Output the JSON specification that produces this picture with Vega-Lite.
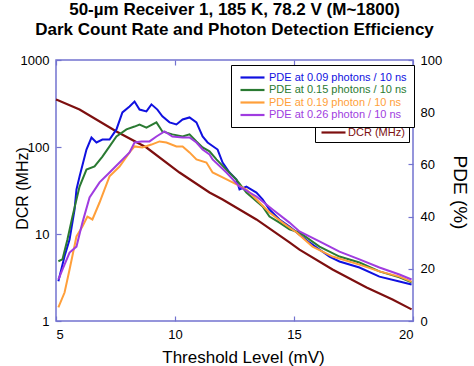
{
  "$schema": "https://vega.github.io/schema/vega-lite/v6.json",
  "width": 357,
  "height": 261,
  "autosize": "none",
  "padding": {"left": 56, "top": 60, "right": 61, "bottom": 45},
  "background": "white",
  "title": {
    "text": ["50-µm Receiver 1, 185 K, 78.2 V (M~1800)", "Dark Count Rate and Photon Detection Efficiency"],
    "fontSize": 17,
    "fontWeight": "bold",
    "font": "Liberation Sans",
    "lineHeight": 20,
    "offset": 15,
    "anchor": "middle",
    "color": "black"
  },
  "config": {
    "view": {"stroke": "#7373cf", "strokeWidth": 1.5},
    "axis": {
      "domain": false,
      "grid": false,
      "tickColor": "#7373cf",
      "tickSize": -5,
      "tickWidth": 1.2,
      "labelFont": "Liberation Sans",
      "labelFontSize": 13,
      "labelColor": "black",
      "titleFont": "Liberation Sans",
      "titleFontSize": 16,
      "titleFontWeight": "normal",
      "titleColor": "black"
    },
    "legend": {
      "labelFont": "Liberation Sans",
      "labelFontSize": 11,
      "symbolType": "M-1,0H7",
      "symbolSize": 36,
      "symbolStrokeWidth": 2.2,
      "labelOffset": 20,
      "rowPadding": 0.5,
      "strokeColor": "black",
      "fillColor": "white"
    }
  },
  "datasets": {
    "pde": [
      {"series": "PDE at 0.09 photons / 10 ns", "mV": 5.1, "pde": 15.2},
      {"series": "PDE at 0.09 photons / 10 ns", "mV": 5.36, "pde": 24.8},
      {"series": "PDE at 0.09 photons / 10 ns", "mV": 5.57, "pde": 31.2},
      {"series": "PDE at 0.09 photons / 10 ns", "mV": 5.78, "pde": 42.7},
      {"series": "PDE at 0.09 photons / 10 ns", "mV": 5.86, "pde": 50.4},
      {"series": "PDE at 0.09 photons / 10 ns", "mV": 5.99, "pde": 55.4},
      {"series": "PDE at 0.09 photons / 10 ns", "mV": 6.28, "pde": 65.7},
      {"series": "PDE at 0.09 photons / 10 ns", "mV": 6.49, "pde": 70.3},
      {"series": "PDE at 0.09 photons / 10 ns", "mV": 6.7, "pde": 68.4},
      {"series": "PDE at 0.09 photons / 10 ns", "mV": 6.95, "pde": 69.5},
      {"series": "PDE at 0.09 photons / 10 ns", "mV": 7.25, "pde": 69.5},
      {"series": "PDE at 0.09 photons / 10 ns", "mV": 7.54, "pde": 73.4},
      {"series": "PDE at 0.09 photons / 10 ns", "mV": 7.79, "pde": 79.9},
      {"series": "PDE at 0.09 photons / 10 ns", "mV": 8.09, "pde": 82.2},
      {"series": "PDE at 0.09 photons / 10 ns", "mV": 8.3, "pde": 84.1},
      {"series": "PDE at 0.09 photons / 10 ns", "mV": 8.51, "pde": 81.0},
      {"series": "PDE at 0.09 photons / 10 ns", "mV": 8.8, "pde": 80.3},
      {"series": "PDE at 0.09 photons / 10 ns", "mV": 9.01, "pde": 83.0},
      {"series": "PDE at 0.09 photons / 10 ns", "mV": 9.26, "pde": 81.0},
      {"series": "PDE at 0.09 photons / 10 ns", "mV": 9.47, "pde": 78.4},
      {"series": "PDE at 0.09 photons / 10 ns", "mV": 9.77, "pde": 76.1},
      {"series": "PDE at 0.09 photons / 10 ns", "mV": 10.06, "pde": 75.3},
      {"series": "PDE at 0.09 photons / 10 ns", "mV": 10.32, "pde": 77.2},
      {"series": "PDE at 0.09 photons / 10 ns", "mV": 10.61, "pde": 78.0},
      {"series": "PDE at 0.09 photons / 10 ns", "mV": 10.9, "pde": 76.1},
      {"series": "PDE at 0.09 photons / 10 ns", "mV": 11.16, "pde": 70.7},
      {"series": "PDE at 0.09 photons / 10 ns", "mV": 11.37, "pde": 68.4},
      {"series": "PDE at 0.09 photons / 10 ns", "mV": 11.79, "pde": 65.7},
      {"series": "PDE at 0.09 photons / 10 ns", "mV": 12.0, "pde": 60.7},
      {"series": "PDE at 0.09 photons / 10 ns", "mV": 12.29, "pde": 56.9},
      {"series": "PDE at 0.09 photons / 10 ns", "mV": 12.58, "pde": 54.2},
      {"series": "PDE at 0.09 photons / 10 ns", "mV": 12.71, "pde": 50.4},
      {"series": "PDE at 0.09 photons / 10 ns", "mV": 13.0, "pde": 51.5},
      {"series": "PDE at 0.09 photons / 10 ns", "mV": 13.42, "pde": 49.2},
      {"series": "PDE at 0.09 photons / 10 ns", "mV": 13.68, "pde": 46.6},
      {"series": "PDE at 0.09 photons / 10 ns", "mV": 13.97, "pde": 42.7},
      {"series": "PDE at 0.09 photons / 10 ns", "mV": 14.39, "pde": 38.9},
      {"series": "PDE at 0.09 photons / 10 ns", "mV": 14.81, "pde": 36.2},
      {"series": "PDE at 0.09 photons / 10 ns", "mV": 15.23, "pde": 33.1},
      {"series": "PDE at 0.09 photons / 10 ns", "mV": 15.65, "pde": 30.1},
      {"series": "PDE at 0.09 photons / 10 ns", "mV": 16.07, "pde": 27.4},
      {"series": "PDE at 0.09 photons / 10 ns", "mV": 16.49, "pde": 24.7},
      {"series": "PDE at 0.09 photons / 10 ns", "mV": 16.91, "pde": 22.8},
      {"series": "PDE at 0.09 photons / 10 ns", "mV": 17.75, "pde": 20.5},
      {"series": "PDE at 0.09 photons / 10 ns", "mV": 18.59, "pde": 17.0},
      {"series": "PDE at 0.09 photons / 10 ns", "mV": 19.43, "pde": 15.1},
      {"series": "PDE at 0.09 photons / 10 ns", "mV": 19.94, "pde": 14.0},

      {"series": "PDE at 0.15 photons / 10 ns", "mV": 5.1, "pde": 22.9},
      {"series": "PDE at 0.15 photons / 10 ns", "mV": 5.27, "pde": 23.6},
      {"series": "PDE at 0.15 photons / 10 ns", "mV": 5.48, "pde": 31.2},
      {"series": "PDE at 0.15 photons / 10 ns", "mV": 5.69, "pde": 40.0},
      {"series": "PDE at 0.15 photons / 10 ns", "mV": 5.99, "pde": 51.5},
      {"series": "PDE at 0.15 photons / 10 ns", "mV": 6.28, "pde": 58.0},
      {"series": "PDE at 0.15 photons / 10 ns", "mV": 6.62, "pde": 59.2},
      {"series": "PDE at 0.15 photons / 10 ns", "mV": 6.95, "pde": 63.0},
      {"series": "PDE at 0.15 photons / 10 ns", "mV": 7.25, "pde": 66.9},
      {"series": "PDE at 0.15 photons / 10 ns", "mV": 7.54, "pde": 70.7},
      {"series": "PDE at 0.15 photons / 10 ns", "mV": 7.96, "pde": 73.4},
      {"series": "PDE at 0.15 photons / 10 ns", "mV": 8.3, "pde": 74.5},
      {"series": "PDE at 0.15 photons / 10 ns", "mV": 8.51, "pde": 75.3},
      {"series": "PDE at 0.15 photons / 10 ns", "mV": 8.8, "pde": 74.1},
      {"series": "PDE at 0.15 photons / 10 ns", "mV": 9.22, "pde": 76.1},
      {"series": "PDE at 0.15 photons / 10 ns", "mV": 9.47, "pde": 72.6},
      {"series": "PDE at 0.15 photons / 10 ns", "mV": 9.89, "pde": 71.5},
      {"series": "PDE at 0.15 photons / 10 ns", "mV": 10.32, "pde": 70.7},
      {"series": "PDE at 0.15 photons / 10 ns", "mV": 10.61, "pde": 71.5},
      {"series": "PDE at 0.15 photons / 10 ns", "mV": 10.9, "pde": 68.8},
      {"series": "PDE at 0.15 photons / 10 ns", "mV": 11.16, "pde": 66.5},
      {"series": "PDE at 0.15 photons / 10 ns", "mV": 11.45, "pde": 65.0},
      {"series": "PDE at 0.15 photons / 10 ns", "mV": 11.74, "pde": 61.9},
      {"series": "PDE at 0.15 photons / 10 ns", "mV": 12.16, "pde": 58.0},
      {"series": "PDE at 0.15 photons / 10 ns", "mV": 12.58, "pde": 54.2},
      {"series": "PDE at 0.15 photons / 10 ns", "mV": 13.0, "pde": 49.2},
      {"series": "PDE at 0.15 photons / 10 ns", "mV": 13.68, "pde": 43.9},
      {"series": "PDE at 0.15 photons / 10 ns", "mV": 13.97, "pde": 40.0},
      {"series": "PDE at 0.15 photons / 10 ns", "mV": 14.39, "pde": 37.7},
      {"series": "PDE at 0.15 photons / 10 ns", "mV": 14.81, "pde": 35.1},
      {"series": "PDE at 0.15 photons / 10 ns", "mV": 15.23, "pde": 33.9},
      {"series": "PDE at 0.15 photons / 10 ns", "mV": 16.07, "pde": 28.5},
      {"series": "PDE at 0.15 photons / 10 ns", "mV": 16.91, "pde": 24.7},
      {"series": "PDE at 0.15 photons / 10 ns", "mV": 17.75, "pde": 22.4},
      {"series": "PDE at 0.15 photons / 10 ns", "mV": 18.59, "pde": 19.0},
      {"series": "PDE at 0.15 photons / 10 ns", "mV": 19.43, "pde": 16.7},
      {"series": "PDE at 0.15 photons / 10 ns", "mV": 19.94, "pde": 14.8},

      {"series": "PDE at 0.19 photon / 10 ns", "mV": 5.1, "pde": 5.2},
      {"series": "PDE at 0.19 photon / 10 ns", "mV": 5.36, "pde": 10.9},
      {"series": "PDE at 0.19 photon / 10 ns", "mV": 5.57, "pde": 19.7},
      {"series": "PDE at 0.19 photon / 10 ns", "mV": 5.86, "pde": 32.4},
      {"series": "PDE at 0.19 photon / 10 ns", "mV": 6.11, "pde": 36.2},
      {"series": "PDE at 0.19 photon / 10 ns", "mV": 6.32, "pde": 40.0},
      {"series": "PDE at 0.19 photon / 10 ns", "mV": 6.53, "pde": 38.9},
      {"series": "PDE at 0.19 photon / 10 ns", "mV": 6.83, "pde": 45.4},
      {"series": "PDE at 0.19 photon / 10 ns", "mV": 7.04, "pde": 50.4},
      {"series": "PDE at 0.19 photon / 10 ns", "mV": 7.25, "pde": 55.4},
      {"series": "PDE at 0.19 photon / 10 ns", "mV": 7.67, "pde": 59.2},
      {"series": "PDE at 0.19 photon / 10 ns", "mV": 8.09, "pde": 64.6},
      {"series": "PDE at 0.19 photon / 10 ns", "mV": 8.3, "pde": 66.9},
      {"series": "PDE at 0.19 photon / 10 ns", "mV": 8.63, "pde": 66.5},
      {"series": "PDE at 0.19 photon / 10 ns", "mV": 9.01, "pde": 67.6},
      {"series": "PDE at 0.19 photon / 10 ns", "mV": 9.35, "pde": 68.8},
      {"series": "PDE at 0.19 photon / 10 ns", "mV": 9.64, "pde": 68.4},
      {"series": "PDE at 0.19 photon / 10 ns", "mV": 10.06, "pde": 66.9},
      {"series": "PDE at 0.19 photon / 10 ns", "mV": 10.32, "pde": 66.9},
      {"series": "PDE at 0.19 photon / 10 ns", "mV": 10.61, "pde": 64.6},
      {"series": "PDE at 0.19 photon / 10 ns", "mV": 10.9, "pde": 61.9},
      {"series": "PDE at 0.19 photon / 10 ns", "mV": 11.32, "pde": 60.7},
      {"series": "PDE at 0.19 photon / 10 ns", "mV": 11.58, "pde": 56.9},
      {"series": "PDE at 0.19 photon / 10 ns", "mV": 12.0, "pde": 55.0},
      {"series": "PDE at 0.19 photon / 10 ns", "mV": 12.42, "pde": 53.1},
      {"series": "PDE at 0.19 photon / 10 ns", "mV": 13.0, "pde": 50.4},
      {"series": "PDE at 0.19 photon / 10 ns", "mV": 13.55, "pde": 45.4},
      {"series": "PDE at 0.19 photon / 10 ns", "mV": 13.97, "pde": 41.6},
      {"series": "PDE at 0.19 photon / 10 ns", "mV": 14.52, "pde": 37.7},
      {"series": "PDE at 0.19 photon / 10 ns", "mV": 15.11, "pde": 33.9},
      {"series": "PDE at 0.19 photon / 10 ns", "mV": 15.78, "pde": 28.5},
      {"series": "PDE at 0.19 photon / 10 ns", "mV": 16.62, "pde": 24.7},
      {"series": "PDE at 0.19 photon / 10 ns", "mV": 17.75, "pde": 21.6},
      {"series": "PDE at 0.19 photon / 10 ns", "mV": 18.59, "pde": 19.0},
      {"series": "PDE at 0.19 photon / 10 ns", "mV": 19.43, "pde": 17.0},
      {"series": "PDE at 0.19 photon / 10 ns", "mV": 19.94, "pde": 15.1},

      {"series": "PDE at 0.26 photon / 10 ns", "mV": 5.1, "pde": 15.9},
      {"series": "PDE at 0.26 photon / 10 ns", "mV": 5.27, "pde": 19.7},
      {"series": "PDE at 0.26 photon / 10 ns", "mV": 5.57, "pde": 26.2},
      {"series": "PDE at 0.26 photon / 10 ns", "mV": 5.86, "pde": 28.5},
      {"series": "PDE at 0.26 photon / 10 ns", "mV": 6.11, "pde": 37.7},
      {"series": "PDE at 0.26 photon / 10 ns", "mV": 6.41, "pde": 47.3},
      {"series": "PDE at 0.26 photon / 10 ns", "mV": 6.83, "pde": 53.1},
      {"series": "PDE at 0.26 photon / 10 ns", "mV": 7.25, "pde": 56.9},
      {"series": "PDE at 0.26 photon / 10 ns", "mV": 7.67, "pde": 60.7},
      {"series": "PDE at 0.26 photon / 10 ns", "mV": 8.09, "pde": 64.6},
      {"series": "PDE at 0.26 photon / 10 ns", "mV": 8.3, "pde": 68.4},
      {"series": "PDE at 0.26 photon / 10 ns", "mV": 8.59, "pde": 68.8},
      {"series": "PDE at 0.26 photon / 10 ns", "mV": 8.93, "pde": 68.8},
      {"series": "PDE at 0.26 photon / 10 ns", "mV": 9.22, "pde": 70.7},
      {"series": "PDE at 0.26 photon / 10 ns", "mV": 9.56, "pde": 72.6},
      {"series": "PDE at 0.26 photon / 10 ns", "mV": 9.89, "pde": 70.7},
      {"series": "PDE at 0.26 photon / 10 ns", "mV": 10.32, "pde": 70.3},
      {"series": "PDE at 0.26 photon / 10 ns", "mV": 10.61, "pde": 70.3},
      {"series": "PDE at 0.26 photon / 10 ns", "mV": 10.9, "pde": 68.4},
      {"series": "PDE at 0.26 photon / 10 ns", "mV": 11.16, "pde": 65.7},
      {"series": "PDE at 0.26 photon / 10 ns", "mV": 11.45, "pde": 63.8},
      {"series": "PDE at 0.26 photon / 10 ns", "mV": 11.58, "pde": 61.9},
      {"series": "PDE at 0.26 photon / 10 ns", "mV": 12.16, "pde": 56.9},
      {"series": "PDE at 0.26 photon / 10 ns", "mV": 12.71, "pde": 51.5},
      {"series": "PDE at 0.26 photon / 10 ns", "mV": 13.42, "pde": 47.7},
      {"series": "PDE at 0.26 photon / 10 ns", "mV": 14.1, "pde": 42.7},
      {"series": "PDE at 0.26 photon / 10 ns", "mV": 14.81, "pde": 37.7},
      {"series": "PDE at 0.26 photon / 10 ns", "mV": 15.23, "pde": 34.3},
      {"series": "PDE at 0.26 photon / 10 ns", "mV": 16.07, "pde": 30.5},
      {"series": "PDE at 0.26 photon / 10 ns", "mV": 16.91, "pde": 26.6},
      {"series": "PDE at 0.26 photon / 10 ns", "mV": 17.75, "pde": 23.6},
      {"series": "PDE at 0.26 photon / 10 ns", "mV": 18.59, "pde": 20.5},
      {"series": "PDE at 0.26 photon / 10 ns", "mV": 19.43, "pde": 17.8},
      {"series": "PDE at 0.26 photon / 10 ns", "mV": 19.94, "pde": 15.9}
    ],
    "dcr": [
      {"mV": 5.0, "dcr": 350},
      {"mV": 5.06, "dcr": 347},
      {"mV": 5.99, "dcr": 270},
      {"mV": 7.54, "dcr": 151},
      {"mV": 8.8, "dcr": 98.6},
      {"mV": 10.19, "dcr": 50.9},
      {"mV": 11.45, "dcr": 30.0},
      {"mV": 12.0, "dcr": 24.9},
      {"mV": 13.42, "dcr": 14.7},
      {"mV": 14.81, "dcr": 8.0},
      {"mV": 15.23, "dcr": 6.6},
      {"mV": 16.62, "dcr": 3.91},
      {"mV": 18.05, "dcr": 2.43},
      {"mV": 19.14, "dcr": 1.77},
      {"mV": 19.94, "dcr": 1.36}
    ]
  },
  "layer": [
    {
      "data": {"name": "dcr"},
      "mark": {"type": "line", "strokeWidth": 2.2},
      "encoding": {
        "x": {
          "field": "mV", "type": "quantitative",
          "scale": {"domain": [5, 20], "nice": false},
          "axis": {"orient": "top", "values": [5, 10, 15, 20], "labels": false, "title": null}
        },
        "y": {
          "field": "dcr", "type": "quantitative",
          "scale": {"type": "log", "domain": [1, 1000], "nice": false},
          "axis": {"orient": "left", "values": [1, 10, 100, 1000], "format": "d", "title": "DCR (MHz)", "labelPadding": 12, "titleX": -34, "titleY": 128, "titleAngle": -90, "titleAlign": "center", "titleBaseline": "middle"}
        },
        "stroke": {
          "datum": "DCR (MHz)",
          "scale": {"range": ["#7d0f0f"]},
          "legend": {
            "title": null,
            "orient": "none",
            "legendX": 259,
            "legendY": 63,
            "padding": 4,
            "labelOffset": 18,
            "labelColor": "#7d0f0f"
          }
        }
      }
    },
    {
      "data": {"name": "pde"},
      "mark": {"type": "line", "strokeWidth": 2},
      "encoding": {
        "x": {
          "field": "mV", "type": "quantitative",
          "scale": {"domain": [5, 20], "nice": false},
          "axis": {"orient": "bottom", "values": [5, 10, 15, 20], "title": "Threshold Level (mV)", "titleFontSize": 17, "labelPadding": 12, "titleX": 187, "titleY": 36, "titleAlign": "center", "titleBaseline": "middle"}
        },
        "y": {
          "field": "pde", "type": "quantitative",
          "scale": {"domain": [0, 100], "nice": false},
          "axis": {"orient": "right", "values": [0, 20, 40, 60, 80, 100], "title": "PDE (%)", "titleFontSize": 19, "labelPadding": 12, "titleX": 46, "titleY": 132, "titleAngle": 90, "titleAlign": "center", "titleBaseline": "middle"}
        },
        "color": {
          "field": "series", "type": "nominal",
          "scale": {
            "domain": ["PDE at 0.09 photons / 10 ns", "PDE at 0.15 photons / 10 ns", "PDE at 0.19 photon / 10 ns", "PDE at 0.26 photon / 10 ns"],
            "range": ["#1010e0", "#2a7a32", "#ff9f3a", "#a03ce0"]
          },
          "legend": {
            "title": null,
            "orient": "none",
            "legendX": 175,
            "legendY": 5,
            "padding": 7,
            "encode": {"labels": {"update": {"fill": {"scale": "color", "field": "value"}}}}
          }
        }
      }
    }
  ],
  "resolve": {"scale": {"y": "independent"}, "axis": {"x": "independent", "y": "independent"}}
}
